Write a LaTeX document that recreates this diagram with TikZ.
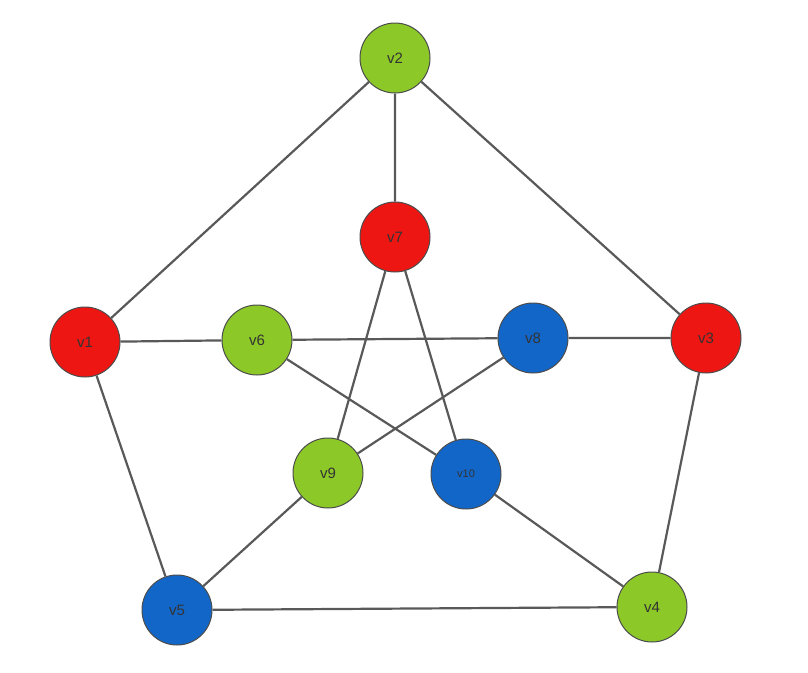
\documentclass[tikz,border=0pt]{standalone}
\usepackage{fontspec}
\setmainfont{Liberation Sans}
\begin{document}
\begin{tikzpicture}[x=1pt,y=-1pt,
  vtx/.style={circle,draw=black!70,line width=1pt,minimum size=70pt,inner sep=0pt,font=\fontsize{15}{15}\selectfont,text=black!80},
  rv/.style={vtx,fill={rgb,255:red,238;green,22;blue,18}},
  gv/.style={vtx,fill={rgb,255:red,140;green,200;blue,40}},
  bv/.style={vtx,fill={rgb,255:red,18;green,102;blue,200}},
  ed/.style={draw=black!65,line width=2.2pt}]
\useasboundingbox (0,0) rectangle (808,672);
\node[gv] (v2) at (395,58) {v2};
\node[rv] (v7) at (395,237) {v7};
\node[rv] (v1) at (85,342) {v1};
\node[gv] (v6) at (257,340) {v6};
\node[bv] (v8) at (533,338) {v8};
\node[rv] (v3) at (706,338) {v3};
\node[gv] (v9) at (328,473) {v9};
\node[bv] (v10) at (466,474) {\fontsize{11}{11}\selectfont v10};
\node[bv] (v5) at (177,610) {v5};
\node[gv] (v4) at (652,607) {v4};
\begin{scope}[on background layer/.try]
\end{scope}
\path[ed] (v2)--(v1) (v2)--(v7) (v2)--(v3) (v1)--(v6) (v6)--(v8) (v8)--(v3)
 (v1)--(v5) (v3)--(v4) (v5)--(v4) (v7)--(v9) (v7)--(v10) (v6)--(v10)
 (v8)--(v9) (v9)--(v5) (v10)--(v4);
\end{tikzpicture}
\end{document}
